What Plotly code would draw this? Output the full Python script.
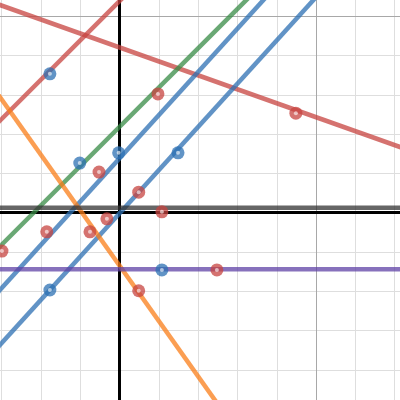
import numpy as np
import plotly.graph_objects as go

# visible window (graph units)
x_range = [-3.05, 7.13]
y_range = [-4.76, 5.42]

# lines y = m*x + b
line_slopes = [1.0, -0.355, 1.0, 1.1, 1.1, -1.41, 0.0, 0.0]
line_icpts = [5.4, 4.21, 2.2, 1.4, 0.0, -1.35, -1.43, 0.13]
line_colors = ['#c74440', '#c74440', '#388c46', '#2d70b3', '#2d70b3', '#fa7e19', '#6042a6', '#333333']

blue_x = [-1.78, -1.02, -0.03, 1.48, -1.78, 1.07]
blue_y = [3.54, 1.27, 1.53, 1.53, -1.96, -1.45]
red_x = [0.97, 4.48, -0.53, 0.48, 1.07, -0.33, -1.86, -0.76, -3.0, 0.48, 2.47]
red_y = [3.03, 2.54, 1.04, 0.53, 0.03, -0.15, -0.48, -0.48, -0.97, -1.98, -1.45]

fig = go.Figure()

xs = np.array([-5.0, 9.0])
for m, b, c in zip(line_slopes, line_icpts, line_colors):
    fig.add_trace(go.Scatter(x=xs, y=m * xs + b, mode='lines',
                             line=dict(color=c, width=4.5), opacity=0.75))

for px_, py_, c in [(blue_x, blue_y, '#2d70b3'), (red_x, red_y, '#c74440')]:
    fig.add_trace(go.Scatter(x=px_, y=py_, mode='markers',
                             marker=dict(size=13, color=c), opacity=0.75))
    fig.add_trace(go.Scatter(x=px_, y=py_, mode='markers',
                             marker=dict(size=4, color='rgba(255,255,255,0.6)')))

axis = dict(showticklabels=False, showgrid=True, gridcolor='#a8a8a8', gridwidth=1.3,
            dtick=5, tick0=0, zeroline=True, zerolinecolor='black', zerolinewidth=2.5,
            minor=dict(dtick=1, showgrid=True, gridcolor='#dedede', gridwidth=1.3),
            ticks='', fixedrange=True)
fig.update_xaxes(range=x_range, **axis)
fig.update_yaxes(range=y_range, **axis)
fig.update_layout(width=400, height=400, margin=dict(l=0, r=0, t=0, b=0),
                  showlegend=False, plot_bgcolor='white', paper_bgcolor='white')
fig.write_html("out.html", post_script="document.body.style.margin='0';",
               config={'displayModeBar': False})
